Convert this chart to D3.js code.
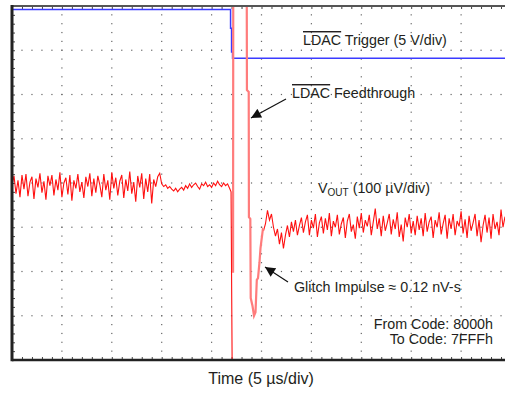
<!DOCTYPE html>
<html><head><meta charset="utf-8">
<script src="https://cdn.jsdelivr.net/npm/d3@7"></script>
<style>
html,body{margin:0;padding:0;background:#fff;}
svg{display:block;font-family:"Liberation Sans",Arial,sans-serif;}
</style></head>
<body>
<svg id="chart" width="505" height="393"></svg>
<script>
// ---- data ----
const SAMPLE_US = 0.2;                 // scope sample interval (µs)
const preStart = 0.0;
const preValues = [ // VOUT before LDAC (µV)
 -4,16,-24,6,-32,18,-14,20,-30,2,
 14,-36,10,-10,22,-22,4,-38,16,-6,
 18,-28,8,-16,24,-32,0,12,-26,18,
 -40,6,-12,20,-20,2,-34,14,-8,22,
 -30,10,-22,16,-4,-32,20,-16,6,-38,
 24,-12,12,-28,4,18,-34,8,-18,26,
 -24,2,-42,16,-10,22,-36,10,-20,20,
 -46,8,-8,14,22,
 -2,-8,-4,-12,-8,-14,-18,-12,-20,-14,
 -10,-16,-6,-12,-2,-10,-4,0,-8,-14,
 -2,-6,2,-8,-4,-10,0,-6,4,-4,
 -8,0,-6,-2,-12];
const dropTime  = [21.95, 22.07];
const dropValue = [-20, -450];
const glitchTime  = [22.15, 22.17, 23.52, 23.54, 23.72, 23.74, 23.88, 23.92, 24.1, 24.25, 24.4, 24.53, 24.65, 24.8, 24.9, 25.0, 25.13, 25.2];
const glitchValue = [-203, 450, 450, 210, 206, -77, -81, -260, -278, -300, -292, -219, -215, -179, -147, -129, -106, -108];
const postStart = 25.2;
const postValues = [ // VOUT after LDAC (µV)
 -108,-92,-62,-84,-70,-100,-120,-104,-138,-112,
 -148,-118,-96,-122,-88,-110,-84,-118,-96,-78,
 -112,-88,-72,-118,-84,-102,-70,-122,-90,-76,
 -114,-80,-106,-68,-120,-86,-100,-72,-116,-92,
 -78,-124,-86,-70,-110,-94,-126,-76,-102,-68,
 -112,-84,-98,-72,-118,-88,-58,-104,-80,-120,
 -74,-108,-90,-70,-116,-82,-104,-66,-122,-94,
 -132,-78,-100,-70,-114,-86,-118,-74,-106,-80,
 -120,-68,-110,-88,-76,-124,-84,-100,-66,-116,
 -92,-72,-126,-80,-104,-70,-118,-86,-98,-64,
 -114,-82,-124,-74,-108,-90,-70,-120,-84,-134,
 -96,-72,-112,-78,-126,-70,-104,-88,-118,-60,-100,-76];
const triggerTime  = [0, 21.9, 21.9, 22.0, 22.0, 22.1, 22.1, 50];
const triggerVolts = [5.5, 5.5, 3.4, 3.4, 0.7, 0.7, 0, 0];
const timeDomain = [0, 50];          // 5 µs/div, 10 div
const voutDomain = [-400, 400];      // 100 µV/div, 8 div
const trigDomain = [-34.1, 5.9];     // 5 V/div
const majorTimes = [5,10,15,20,25,30,35,40,45];
const majorVolts = [-300,-200,-100,0,100,200,300];
const labels = {
  trigger: "Trigger (5 V/div)",
  feed: "Feedthrough",
  ldac: "LDAC",
  vout: "V", voutSub: "OUT", voutRest: " (100 µV/div)",
  glitch: "Glitch Impulse ≈ 0.12 nV-s",
  from: "From Code: 8000h",
  to: "To Code: 7FFFh",
  xTitle: "Time (5 µs/div)"
};

// ---- chart ----
const svg = d3.select("#chart");
const L = 12, R = 511, T = 6, B = 360;
const x = d3.scaleLinear().domain(timeDomain).range([L, R]);
const y = d3.scaleLinear().domain(voutDomain).range([B, T]);
const yt = d3.scaleLinear().domain(trigDomain).range([B, T]);

const minorT = d3.range(timeDomain[0], timeDomain[1] + 0.001, 1);
const minorV = d3.range(voutDomain[0], voutDomain[1] + 0.001, 20);

// dotted grid
const grid = svg.append("g").attr("fill", "#666");
majorTimes.forEach(t => {
  grid.selectAll(null).data(minorV.filter(v => v > voutDomain[0] && v < voutDomain[1]))
    .enter().append("rect")
    .attr("x", x(t) - 0.6).attr("y", d => y(d) - 0.6)
    .attr("width", 1.2).attr("height", 1.2);
});
majorVolts.forEach(v => {
  grid.selectAll(null).data(minorT.filter(t => t > timeDomain[0]))
    .enter().append("rect")
    .attr("x", d => x(d) - 0.6).attr("y", y(v) - 0.6)
    .attr("width", 1.2).attr("height", 1.2);
});

// border ticks via axes
const axTop = svg.append("g").attr("transform", `translate(0,${T})`)
  .call(d3.axisTop(x).tickValues(minorT).tickSize(-3).tickFormat(""));
const axBot = svg.append("g").attr("transform", `translate(0,${B})`)
  .call(d3.axisBottom(x).tickValues(minorT).tickSize(-3).tickFormat(""));
const axLeft = svg.append("g").attr("transform", `translate(${L},0)`)
  .call(d3.axisLeft(y).tickValues(minorV).tickSize(-3).tickFormat(""));
[axTop, axBot, axLeft].forEach(g => {
  g.select(".domain").remove();
  g.selectAll(".tick line").attr("stroke", "#444").attr("stroke-width", 1);
});

// clip
svg.append("clipPath").attr("id", "plotClip").append("rect")
  .attr("x", L).attr("y", T).attr("width", R - L).attr("height", B - T);
const traces = svg.append("g").attr("clip-path", "url(#plotClip)");

// trigger trace
const trigData = triggerTime.map((t, i) => [t, triggerVolts[i]]);
traces.append("path")
  .attr("d", d3.line().x(d => x(d[0])).y(d => yt(d[1]))(trigData))
  .attr("fill", "none").attr("stroke", "#3b3bff").attr("stroke-width", 1.5);

// VOUT red trace (before)
const preData = preValues.map((v, i) => [preStart + i * SAMPLE_US, v])
  .concat(dropTime.map((t, i) => [t, dropValue[i]]));
const line = d3.line().x(d => x(d[0])).y(d => y(d[1]));
traces.append("path").attr("d", line(preData))
  .attr("fill", "none").attr("stroke", "#ff1010").attr("stroke-width", 1.1);

// post trace
const postData = postValues.map((v, i) => [postStart + i * SAMPLE_US, v]);
traces.append("path").attr("d", line(postData))
  .attr("fill", "none").attr("stroke", "#ff1010").attr("stroke-width", 1.1);

// glitch transient (pink)
const glitchData = glitchTime.map((t, i) => [t, glitchValue[i]]);
traces.append("path").attr("d", line(glitchData))
  .attr("fill", "none").attr("stroke", "#ff7c7c").attr("stroke-width", 2.2);

// frame
svg.append("line").attr("x1", L).attr("x2", 505).attr("y1", T).attr("y2", T)
  .attr("stroke", "#555").attr("stroke-width", 2);
svg.append("line").attr("x1", L).attr("x2", 505).attr("y1", B).attr("y2", B)
  .attr("stroke", "#222").attr("stroke-width", 2.5);
svg.append("line").attr("x1", L).attr("x2", L).attr("y1", T - 1).attr("y2", B + 1.2)
  .attr("stroke", "#222").attr("stroke-width", 3);

// annotations
const txt = svg.append("g").attr("fill", "#231f20").attr("font-size", 14.3);
function overlined(xp, yp, rest) {
  const t = txt.append("text").attr("x", xp).attr("y", yp);
  t.append("tspan").attr("text-decoration", "overline").style("text-decoration", "overline").text(labels.ldac);
  t.append("tspan").text(" " + rest);
  return t;
}
overlined(303, 45, labels.trigger);
overlined(292, 98, labels.feed);
const vt = txt.append("text").attr("x", 318).attr("y", 193);
vt.append("tspan").text(labels.vout);
vt.append("tspan").attr("font-size", 10).attr("dy", 3).text(labels.voutSub);
vt.append("tspan").attr("dy", -3).text(labels.voutRest);
txt.append("text").attr("x", 294).attr("y", 292).text(labels.glitch);
txt.append("text").attr("x", 493).attr("y", 329).attr("text-anchor", "end").text(labels.from);
txt.append("text").attr("x", 493).attr("y", 344).attr("text-anchor", "end").text(labels.to);
txt.append("text").attr("x", 261).attr("y", 384).attr("text-anchor", "middle")
  .attr("font-size", 16).text(labels.xTitle);

// arrows
svg.append("defs").append("marker").attr("id", "ah")
  .attr("viewBox", "0 0 10 10").attr("refX", 10).attr("refY", 5)
  .attr("markerWidth", 12).attr("markerHeight", 10).attr("markerUnits", "userSpaceOnUse")
  .attr("orient", "auto")
  .append("path").attr("d", "M0,0L10,5L0,10Z").attr("fill", "#111");
svg.append("line").attr("x1", 286).attr("y1", 99).attr("x2", 251).attr("y2", 118)
  .attr("stroke", "#111").attr("stroke-width", 1.2).attr("marker-end", "url(#ah)");
svg.append("line").attr("x1", 288).attr("y1", 282).attr("x2", 265).attr("y2", 267)
  .attr("stroke", "#111").attr("stroke-width", 1.2).attr("marker-end", "url(#ah)");
</script>
</body></html>
